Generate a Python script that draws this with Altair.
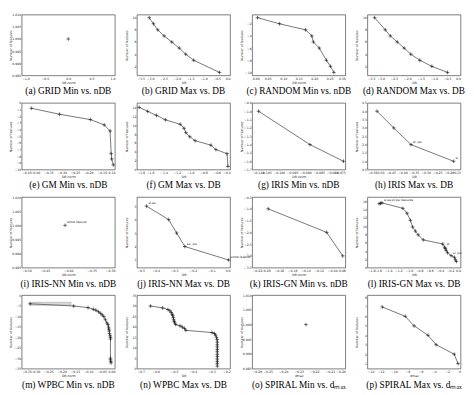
import altair as alt
import pandas as pd

# ---------------- data ----------------
GRID_MIN_X = [0.0]
GRID_MIN_Y = [1.0]

GRID_MAX_X = [-3.04, -2.88, -2.72, -2.48, -2.19, -1.91, -1.67, -1.37, -0.40]
GRID_MAX_Y = [10, 9, 8, 7, 6, 5, 4, 3, 1]

RANDOM_MIN_X = [0.017, 0.088, 0.172, 0.192, 0.197, 0.216, 0.239, 0.252, 0.263]
RANDOM_MIN_Y = [-1, -2, -3, -4, -5, -6, -8, -9, -10]

RANDOM_MAX_X = [-3.23, -2.83, -2.64, -2.38, -2.12, -1.87, -1.53, -1.08, -0.49]
RANDOM_MAX_Y = [10, 8, 7, 6, 5, 4, 3, 2, 1]

GM_MIN_X = [-0.414, -0.308, -0.192, -0.140, -0.118, -0.114, -0.112, -0.106]
GM_MIN_Y = [-0.8, -1.7, -2.5, -3.3, -4.2, -7.6, -8.4, -9.3]

GM_MAX_X = [-1.767, -1.639, -1.506, -1.373, -1.150, -1.093, -1.064, -1.007,
            -0.927, -0.689, -0.614, -0.447, -0.433]
GM_MAX_Y = [14.0, 13.1, 12.2, 11.2, 10.2, 9.3, 8.3, 7.4, 6.5, 5.5, 4.5, 3.6, 0.7]

IRIS_MIN_X = [-0.1076, -0.0883, -0.0757]
IRIS_MIN_Y = [-1.0, -1.4, -1.6]

IRIS_MAX_X = [-0.509, -0.437, -0.363, -0.180]
IRIS_MAX_Y = [4, 3, 2, 1]
IRIS_MAX_LABELS = ["", "", "pl, pw", "sl"]

IRISNN_MIN_X = [-0.407]
IRISNN_MIN_Y = [1.0]
IRISNN_MIN_LABELS = ["some feature"]

IRISNN_MAX_X = [-0.449, -0.330, -0.287, -0.243, -0.008]
IRISNN_MAX_Y = [5, 4, 3, 2, 1]
IRISNN_MAX_LABELS = ["sl,sw", "", "", "sw, pw", "some feature"]

IRISGN_MIN_X = [-0.196, -0.108, -0.084]
IRISGN_MIN_Y = [-1, -2, -3]

IRISGN_MAX_X = [-1.574, -1.547, -1.520, -1.116, -1.035, -0.970, -0.927, -0.873,
                -0.819, -0.722, -0.345, -0.307, -0.296, -0.280, -0.253, -0.183,
                -0.119, -0.102, -0.081]
IRISGN_MAX_Y = [15.4, 15.5, 15.6, 14.3, 13.1, 11.4, 9.8, 8.8, 7.9, 6.7, 5.7,
                4.9, 4.6, 4.2, 3.6, 2.9, 2.5, 1.9, 1.5]
IRISGN_MAX_LABELS = ["", "", "sl,sw,pl,pw features", "", "", "", "", "", "",
                     "", "", "pl", "", "", "", "sl, pw", "", "", ""]

WPBC_MIN_X = [-0.319, -0.155, -0.101, -0.0810, -0.0714, -0.0619, -0.0536,
              -0.0476, -0.0417, -0.0357, -0.0298, -0.0262, -0.0238, -0.0226,
              -0.0214, -0.0202, -0.0179, -0.0167, -0.0167, -0.0167, -0.0167,
              -0.0155, -0.0143]
WPBC_MIN_Y = [-4.11, -5.17, -5.94, -6.70, -7.15, -7.91, -8.67, -9.44, -10.20,
              -11.72, -13.24, -14.0, -15.22, -16.13, -17.04, -18.26, -19.33,
              -20.09, -20.85, -29.98, -30.74, -31.50, -32.26]
WPBC_BAND_X = [-0.319, -0.165]
WPBC_BAND_Y = [-3.4, -4.8]

WPBC_MAX_X = [-0.628, -0.5625, -0.534, -0.523, -0.516, -0.511, -0.508, -0.505,
              -0.503, -0.500, -0.497, -0.492, -0.469, -0.456, -0.445, -0.4375,
              -0.297, -0.284, -0.278, -0.273, -0.270, -0.269, -0.269, -0.269,
              -0.269, -0.269, -0.269, -0.269, -0.269, -0.269, -0.269, -0.269]
WPBC_MAX_Y = [29.83, 28.92, 28.15, 27.55, 26.78, 25.87, 25.26, 24.35, 23.28,
              22.52, 21.76, 21.0, 20.39, 19.78, 19.18, 18.26, 17.20, 16.74,
              15.98, 14.91, 13.85, 12.63, 11.41, 10.35, 9.13, 8.07, 6.85, 5.78,
              4.57, 3.50, 2.43, 1.22]

SPIRAL_MIN_X = [-0.2254]
SPIRAL_MIN_Y = [1.0]

SPIRAL_MAX_X = [-11.77, -8.31, -7.0, -4.9, -3.68, -0.96, -0.39]
SPIRAL_MAX_Y = [7, 6, 5, 4, 3, 2, 1]

CAPTIONS = [
    "(a) GRID Min vs. nDB", "(b) GRID Max vs. DB",
    "(c) RANDOM Min vs. nDB", "(d) RANDOM Max vs. DB",
    "(e) GM Min vs. nDB", "(f) GM Max vs. DB",
    "(g) IRIS Min vs. nDB", "(h) IRIS Max vs. DB",
    "(i) IRIS-NN Min vs. nDB", "(j) IRIS-NN Max vs. DB",
    "(k) IRIS-GN Min vs. nDB", "(l) IRIS-GN Max vs. DB",
    "(m) WPBC Min vs. nDB", "(n) WPBC Max vs. DB",
    "(o) SPIRAL Min vs. dₘₐₓ", "(p) SPIRAL Max vs. dₘₐₓ",
]


def steps(a, b, s):
    n = int(round((b - a) / s))
    return [round(a + i * s, 6) for i in range(n + 1)]


UNIT_Y_DOM = [0.985, 1.01]
UNIT_Y_TICKS = [0.985, 0.99, 0.995, 1.0, 1.005, 1.01]

CROSS = "M-1,0L1,0M0,-1L0,1"
W = 95
ROW_H = [62, 68, 72, 75]
YTITLE = "Number of features"


def panel(xs, ys, xdom, xticks, ydom, yticks, xtitle, caption, h,
          labels=None, band=None):
    df = pd.DataFrame({"x": xs, "y": ys, "order": list(range(len(xs)))})
    xenc = alt.X("x:Q", scale=alt.Scale(domain=xdom, nice=False, zero=False),
                 axis=alt.Axis(values=xticks, title=xtitle))
    yenc = alt.Y("y:Q", scale=alt.Scale(domain=ydom, nice=False, zero=False),
                 axis=alt.Axis(values=yticks, title=YTITLE))
    layers = []
    if band is not None:
        bdf = pd.DataFrame({"x": [band[0][0]], "x2": [band[0][1]],
                            "y": [band[1][0]], "y2": [band[1][1]]})
        layers.append(alt.Chart(bdf).mark_rect(fill="#d9d9d9", stroke="#999",
                                               strokeWidth=0.5).encode(
            x=xenc, x2="x2:Q", y=yenc, y2="y2:Q"))
    base = alt.Chart(df).encode(x=xenc, y=yenc)
    if len(xs) > 1:
        layers.append(base.mark_line(color="#555", strokeWidth=0.8).encode(
            order="order:Q"))
    layers.append(base.mark_point(shape=CROSS, size=14, filled=False,
                                  color="#111", strokeWidth=0.6, opacity=1))
    if labels is not None:
        df["label"] = labels
        tdf = df[df["label"] != ""]
        layers.append(alt.Chart(tdf).mark_text(
            align="left", baseline="bottom", dx=2, dy=-1, fontSize=3,
            font="DejaVu Sans", color="#111").encode(x=xenc, y=yenc, text="label:N"))
    return alt.layer(*layers).properties(
        width=W, height=h,
        title=alt.TitleParams(caption, orient="bottom", anchor="middle",
                              baseline="top"))


panels = [
    panel(GRID_MIN_X, GRID_MIN_Y, [-1, 1], steps(-1, 1, 0.5), UNIT_Y_DOM,
          UNIT_Y_TICKS, "DB-norm", CAPTIONS[0], ROW_H[0]),
    panel(GRID_MAX_X, GRID_MAX_Y, [-3.5, 0], steps(-3.5, 0, 0.5), [0.5, 10.5],
          [2, 4, 6, 8, 10], "DB", CAPTIONS[1], ROW_H[0]),
    panel(RANDOM_MIN_X, RANDOM_MIN_Y, [0, 0.3], steps(0, 0.3, 0.05),
          [-10.5, -0.5], [-10, -8, -6, -4, -2], "DB-norm", CAPTIONS[2], ROW_H[0]),
    panel(RANDOM_MAX_X, RANDOM_MAX_Y, [-3.5, 0], steps(-3.5, 0, 0.5),
          [0.5, 10.5], [2, 4, 6, 8, 10], "DB", CAPTIONS[3], ROW_H[0]),

    panel(GM_MIN_X, GM_MIN_Y, [-0.45, -0.1], steps(-0.45, -0.1, 0.05),
          [-10, 0], steps(-10, 0, 1), "DB-norm", CAPTIONS[4], ROW_H[1]),
    panel(GM_MAX_X, GM_MAX_Y, [-1.8, -0.4], steps(-1.8, -0.4, 0.2),
          [0, 15], steps(0, 14, 2), "DB", CAPTIONS[5], ROW_H[1]),
    panel(IRIS_MIN_X, IRIS_MIN_Y, [-0.11, -0.075], steps(-0.11, -0.075, 0.005),
          [-1.7, -0.9], steps(-1.7, -0.9, 0.1), "DB-norm", CAPTIONS[6], ROW_H[1]),
    panel(IRIS_MAX_X, IRIS_MAX_Y, [-0.55, -0.15], steps(-0.55, -0.15, 0.05),
          [0.5, 4.5], steps(0.5, 4.5, 0.5), "DB", CAPTIONS[7], ROW_H[1],
          labels=IRIS_MAX_LABELS),

    panel(IRISNN_MIN_X, IRISNN_MIN_Y, [-0.5, -0.3], steps(-0.5, -0.3, 0.05),
          UNIT_Y_DOM, UNIT_Y_TICKS, "DB-norm", CAPTIONS[8], ROW_H[2],
          labels=IRISNN_MIN_LABELS),
    panel(IRISNN_MAX_X, IRISNN_MAX_Y, [-0.5, 0], steps(-0.5, 0, 0.1),
          [0.43, 5.67], [1, 2, 3, 4, 5], "DB", CAPTIONS[9], ROW_H[2],
          labels=IRISNN_MAX_LABELS),
    panel(IRISGN_MIN_X, IRISGN_MIN_Y, [-0.22, -0.08], steps(-0.22, -0.08, 0.02),
          [-3.5, -0.5], steps(-3.5, -0.5, 0.5), "DB-norm", CAPTIONS[10], ROW_H[2]),
    panel(IRISGN_MAX_X, IRISGN_MAX_Y, [-1.8, 0], steps(-1.8, 0, 0.2),
          [0, 17], steps(0, 16, 2), "DB", CAPTIONS[11], ROW_H[2],
          labels=IRISGN_MAX_LABELS),

    panel(WPBC_MIN_X, WPBC_MIN_Y, [-0.35, 0], steps(-0.35, 0, 0.05),
          [-35, 0], steps(-35, 0, 5), "DB-norm", CAPTIONS[12], ROW_H[3],
          band=(WPBC_BAND_X, WPBC_BAND_Y)),
    panel(WPBC_MAX_X, WPBC_MAX_Y, [-0.7, -0.2], steps(-0.7, -0.2, 0.1),
          [0, 35], steps(0, 35, 5), "DB", CAPTIONS[13], ROW_H[3]),
    panel(SPIRAL_MIN_X, SPIRAL_MIN_Y, [-0.26, -0.2], steps(-0.26, -0.2, 0.01),
          UNIT_Y_DOM, UNIT_Y_TICKS, "dmax", CAPTIONS[14], ROW_H[3]),
    panel(SPIRAL_MAX_X, SPIRAL_MAX_Y, [-14, 0], steps(-14, 0, 2),
          [0.46, 8.25], steps(1, 8, 1), "dmax", CAPTIONS[15], ROW_H[3]),
]

chart = alt.concat(
    *panels, columns=4, spacing={"row": 28, "column": 22.5},
    bounds="flush", align="each",
).properties(
    padding={"left": 0, "top": 0, "right": 0, "bottom": 0},
    background="white",
).configure_view(
    stroke="#444", strokeWidth=0.7
).configure_axis(
    grid=False, domain=False, ticks=False, labelFontSize=3.2,
    titleFontSize=3.2, labelPadding=1, titlePadding=1, labelColor="#222",
    titleColor="#222", labelOverlap=False, labelFont="DejaVu Sans",
    titleFont="DejaVu Sans", titleFontWeight="normal",
).configure_axisY(
    minExtent=8, maxExtent=8
).configure_axisX(
    minExtent=4, maxExtent=4
).configure_title(
    font="Liberation Serif", fontSize=9.5, fontWeight="normal",
    color="black", offset=3,
)

chart.save("out.html", embed_options={"renderer": "svg", "actions": False})
